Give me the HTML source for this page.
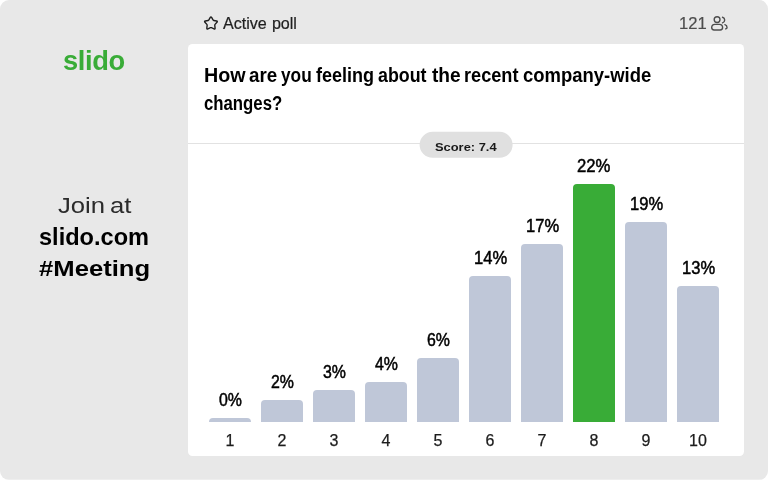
<!DOCTYPE html>
<html lang="en">
<head>
<meta charset="utf-8">
<title>Slido – Active poll</title>
<style>
  html, body { margin: 0; padding: 0; }
  body {
    width: 768px; height: 480px; overflow: hidden; background: #ffffff;
    font-family: "Liberation Sans", sans-serif; color: #111;
  }
  .stage {
    position: relative; width: 768px; height: 480px;
    background: #e8e8e8; border-radius: 9px; overflow: hidden;
  }
  .edge { position: absolute; left: 0; top: 479px; width: 768px; height: 1px; background: rgba(255,255,255,.28); }
  .t { position: absolute; white-space: nowrap; line-height: 1; transform-origin: 0 0; }
  .c { text-align: center; transform-origin: 50% 0; }

  /* side panel */
  .logo { font-weight: bold; color: #39ac37; }
  .join { color: #2b2b2b; }
  .b { font-weight: bold; color: #000; }

  /* header */
  .ico { position: absolute; left: 0; top: 0; width: 768px; height: 44px; }
  .active { color: #1f1f1f; -webkit-text-stroke: 0.2px #1f1f1f; }
  .count { color: #4d4d4d; -webkit-text-stroke: 0.2px #4d4d4d; }

  /* card */
  .card { position: absolute; left: 188px; top: 44px; width: 556px; height: 412px; background: #fff; border-radius: 4.5px; }
  .w { display: inline-block; transform-origin: 0 50%; }
  .q { position: absolute; left: 204px; width: 520px; font-size: 20px; line-height: 28px; font-weight: bold; color: #000; white-space: nowrap; }
  .rule { position: absolute; left: 188px; top: 143px; width: 556px; height: 1px; background: #e2e2e2; }
  .pill { position: absolute; left: 420px; top: 132px; width: 93px; height: 26px; border-radius: 13px; background: #e0e0e0; transform: translate(-0.4px, -0.15px); }
  .score { font-weight: bold; color: #1a1a1a; }

  /* chart */
  .bar { position: absolute; width: 42px; background: #bfc7d8; border-radius: 4px 4px 0 0; }
  .bar.on { background: #39ac37; }
  .pct { color: #000; }
  .ax { width: 52px; top: 433px; font-size: 16px; color: #1c1c1c; -webkit-text-stroke: 0.25px #1c1c1c; }
</style>
</head>
<body>
<div class="stage">
  <div class="t logo" style="left:62.60px;top:46.40px;font-size:28.3px;transform:scaleX(0.9647);letter-spacing:-0.4px;">slido</div>
  <div class="t join" style="left:57.69px;top:194.80px;font-size:22px;transform:scaleX(1.1669);word-spacing:-2px;">Join at</div>
  <div class="t b" style="left:39.47px;top:225.00px;font-size:24px;transform:scaleX(0.9817);">slido.com</div>
  <div class="t b" style="left:38.79px;top:258.20px;font-size:22px;transform:scaleX(1.1661);">#Meeting</div>

  <svg class="ico" viewBox="0 0 768 44" fill="none" stroke-linecap="round" stroke-linejoin="round">
    <path stroke="#1f1f1f" stroke-width="1.4" d="M211.60 17.43 Q210.95 16.30 210.30 17.43 L208.88 19.92 Q208.63 20.35 208.14 20.46 L205.33 21.04 Q204.05 21.31 204.93 22.27 L206.86 24.40 Q207.19 24.77 207.14 25.27 L206.83 28.12 Q206.69 29.42 207.87 28.88 L210.49 27.70 Q210.95 27.50 211.41 27.70 L214.03 28.88 Q215.21 29.42 215.07 28.12 L214.76 25.27 Q214.71 24.77 215.04 24.40 L216.97 22.27 Q217.85 21.31 216.57 21.04 L213.76 20.46 Q213.27 20.35 213.02 19.92 Z"/>
    <g stroke="#4d4d4d" stroke-width="1.4">
      <circle cx="717.1" cy="19.6" r="2.9"/>
      <path d="M714.9 24.4 H719.4 C721.4 24.4 722.6 25.8 722.6 27.6 C722.6 29.1 721.6 30.05 720.2 30.05 H714.1 C712.7 30.05 711.7 29.1 711.7 27.6 C711.7 25.8 712.9 24.4 714.9 24.4 Z"/>
      <path d="M722.5 17.2 A2.95 2.95 0 0 1 722.5 22.9"/>
      <path d="M724.9 24.7 C726.3 25.1 727.05 26.2 727.05 27.5 C727.05 28.3 726.5 28.8 725.6 28.9"/>
    </g>
  </svg>
  <div class="t active" style="left:222.75px;top:16.30px;font-size:16px;transform:scaleX(1.0055);word-spacing:0.6px;">Active poll</div>
  <div class="t count" style="left:679.20px;top:16.30px;font-size:16px;transform:scaleX(1.0370);">121</div>

  <div class="card">
  </div>
  <div class="title">
    <div class="q" style="top:60.70px"><span class="w" style="transform:scaleX(0.9851);margin:0 -0.63px 0 -0.33px">How</span> <span class="w" style="transform:scaleX(0.9386);margin:0 -1.84px 0 -1.65px">are</span> <span class="w" style="transform:scaleX(0.8630);margin:0 -4.87px 0 -2.02px">you</span> <span class="w" style="transform:scaleX(0.9005);margin:0 -6.41px 0 -1.17px">feeling</span> <span class="w" style="transform:scaleX(0.8913);margin:0 -5.91px 0 -1.60px">about</span> <span class="w" style="transform:scaleX(0.9556);margin:0 -1.33px 0 -0.41px">the</span> <span class="w" style="transform:scaleX(0.9074);margin:0 -5.56px 0 -2.02px">recent</span> <span class="w" style="transform:scaleX(0.9228);margin:0 -10.73px 0 -0.93px">company-wide</span><br>
    <span class="w" style="transform:scaleX(0.8375);margin:0 -15.17px 0 0.41px">changes?</span></div>
  </div>
  <div class="rule"></div>
  <div class="pill"></div>
  <div class="t score" style="left:435.11px;top:141.60px;font-size:11.5px;transform:scaleX(1.1197);">Score: 7.4</div>

  <div class="chart">
    <div class="bar" style="left:209px;top:418px;height:4px"></div>
    <div class="bar" style="left:261px;top:400px;height:22px"></div>
    <div class="bar" style="left:313px;top:390px;height:32px"></div>
    <div class="bar" style="left:365px;top:382px;height:40px"></div>
    <div class="bar" style="left:417px;top:358px;height:64px"></div>
    <div class="bar" style="left:469px;top:276px;height:146px"></div>
    <div class="bar" style="left:521px;top:244px;height:178px"></div>
    <div class="bar on" style="left:573px;top:184px;height:238px"></div>
    <div class="bar" style="left:625px;top:222px;height:200px"></div>
    <div class="bar" style="left:677px;top:286px;height:136px"></div>
    <div class="t pct" style="left:218.59px;top:391.00px;font-size:18px;transform:scaleX(0.8814);-webkit-text-stroke:0.5px #000;">0%</div>
    <div class="t pct" style="left:270.59px;top:373.00px;font-size:18px;transform:scaleX(0.8814);-webkit-text-stroke:0.5px #000;">2%</div>
    <div class="t pct" style="left:322.59px;top:363.00px;font-size:18px;transform:scaleX(0.8814);-webkit-text-stroke:0.5px #000;">3%</div>
    <div class="t pct" style="left:374.59px;top:355.00px;font-size:18px;transform:scaleX(0.8814);-webkit-text-stroke:0.5px #000;">4%</div>
    <div class="t pct" style="left:426.59px;top:331.00px;font-size:18px;transform:scaleX(0.8814);-webkit-text-stroke:0.5px #000;">6%</div>
    <div class="t pct" style="left:473.66px;top:249.00px;font-size:18px;transform:scaleX(0.9184);-webkit-text-stroke:0.5px #000;">14%</div>
    <div class="t pct" style="left:525.66px;top:217.00px;font-size:18px;transform:scaleX(0.9184);-webkit-text-stroke:0.5px #000;">17%</div>
    <div class="t pct" style="left:577.38px;top:157.00px;font-size:18px;transform:scaleX(0.9263);-webkit-text-stroke:0.5px #000;">22%</div>
    <div class="t pct" style="left:629.66px;top:195.00px;font-size:18px;transform:scaleX(0.9184);-webkit-text-stroke:0.5px #000;">19%</div>
    <div class="t pct" style="left:681.66px;top:259.00px;font-size:18px;transform:scaleX(0.9184);-webkit-text-stroke:0.5px #000;">13%</div>
    <div class="t c ax" style="left:204px">1</div>
    <div class="t c ax" style="left:256px">2</div>
    <div class="t c ax" style="left:308px">3</div>
    <div class="t c ax" style="left:360px">4</div>
    <div class="t c ax" style="left:412px">5</div>
    <div class="t c ax" style="left:464px">6</div>
    <div class="t c ax" style="left:516px">7</div>
    <div class="t c ax" style="left:568px">8</div>
    <div class="t c ax" style="left:620px">9</div>
    <div class="t c ax" style="left:672px">10</div>
  </div>
  <div class="edge"></div>
</div>
</body>
</html>
